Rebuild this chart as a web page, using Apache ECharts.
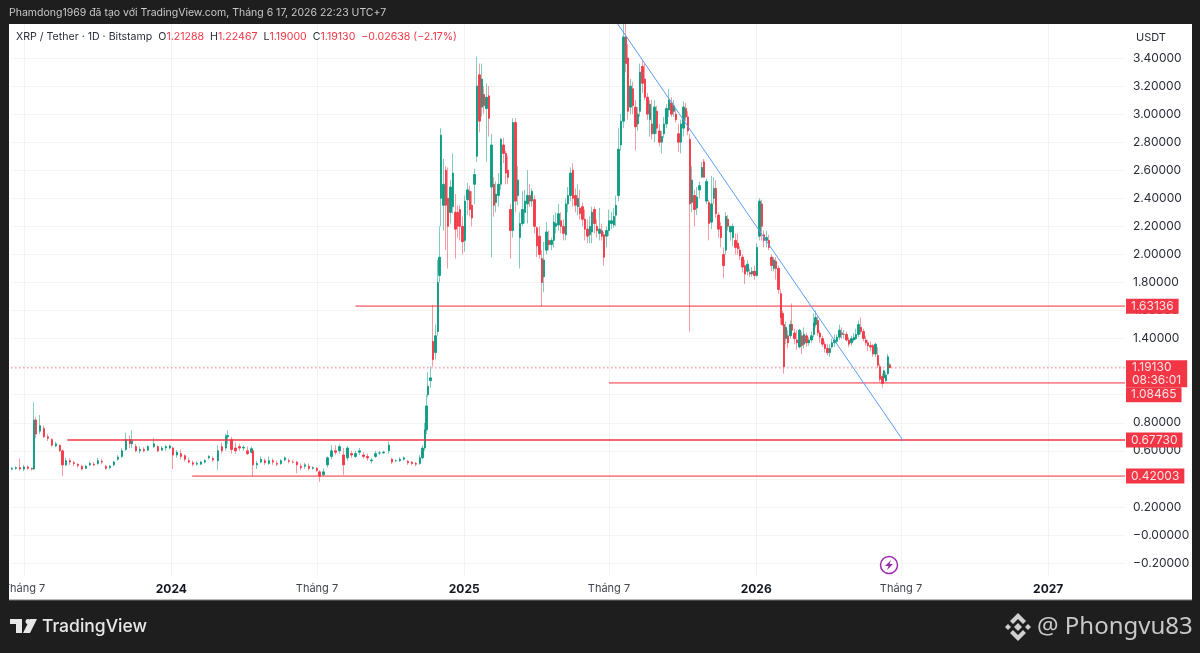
<!DOCTYPE html>
<html><head><meta charset="utf-8">
<style>html,body{margin:0;padding:0;background:#1e1e1e}#c{width:1200px;height:653px}</style>
<script src="https://cdn.jsdelivr.net/npm/echarts@6/dist/echarts.min.js"></script>
</head><body><div id="c"></div>
<script>
// rows: [month-day, open, close, low, high]
const rows2023 = [
['06-16',.47,.475,.46,.485],['06-21',.475,.48,.465,.49],['06-26',.48,.47,.46,.545],['07-01',.47,.485,.455,.50],['07-06',.485,.475,.465,.495],['07-11',.475,.47,.46,.48],['07-13',.47,.82,.465,.945],['07-16',.82,.72,.69,.84],['07-21',.74,.78,.72,.855],['07-26',.76,.70,.69,.78],['07-31',.70,.69,.67,.72],['08-05',.68,.64,.63,.69],['08-10',.635,.65,.625,.665],['08-15',.64,.60,.59,.645],['08-18',.60,.50,.42,.61],['08-22',.50,.53,.49,.55],['08-27',.53,.52,.50,.545],['09-01',.515,.51,.49,.53],['09-06',.505,.495,.48,.51],['09-11',.49,.47,.46,.50],['09-16',.475,.49,.47,.50],['09-21',.50,.51,.49,.525],['09-26',.505,.50,.49,.52],['10-01',.51,.53,.50,.55],['10-06',.525,.52,.505,.54],['10-11',.49,.475,.465,.50],['10-16',.48,.49,.47,.50],['10-21',.50,.52,.49,.53],['10-26',.54,.555,.53,.57],['10-31',.56,.60,.55,.62],['11-05',.61,.68,.60,.73],['11-10',.68,.65,.62,.71],['11-13',.65,.67,.62,.745],['11-18',.63,.60,.59,.65],['11-23',.60,.61,.58,.63],['11-28',.61,.60,.59,.625],['12-03',.605,.63,.60,.64],['12-10',.63,.65,.62,.69],['12-15',.63,.60,.59,.64],['12-20',.605,.62,.60,.635],['12-25',.62,.63,.60,.64],['12-30',.62,.635,.61,.645]
];
const rows2024 = [
['01-03',.62,.57,.47,.63],['01-08',.57,.59,.55,.605],['01-13',.58,.56,.54,.61],['01-18',.565,.54,.525,.575],['01-23',.53,.52,.51,.55],['01-28',.515,.505,.49,.53],['02-02',.505,.51,.495,.525],['02-07',.505,.52,.50,.53],['02-12',.52,.53,.51,.54],['02-17',.55,.56,.54,.57],['02-22',.545,.535,.52,.56],['02-28',.53,.60,.465,.64],['03-04',.63,.60,.58,.66],['03-09',.62,.70,.60,.72],['03-11',.70,.71,.65,.745],['03-16',.68,.61,.58,.70],['03-21',.62,.60,.58,.66],['03-26',.63,.62,.60,.65],['03-31',.62,.625,.60,.64],['04-05',.60,.58,.57,.63],['04-10',.59,.615,.58,.63],['04-12',.60,.50,.42,.61],['04-17',.50,.51,.47,.53],['04-22',.52,.54,.51,.56],['04-27',.53,.515,.50,.545],['05-02',.51,.53,.50,.56],['05-07',.53,.52,.50,.545],['05-12',.51,.505,.49,.53],['05-17',.51,.53,.50,.54],['05-22',.535,.55,.525,.56],['05-27',.53,.525,.51,.545],['06-01',.52,.52,.51,.535],['06-06',.52,.50,.44,.53],['06-11',.49,.48,.46,.51],['06-16',.49,.50,.47,.515],['06-21',.49,.475,.46,.51],['06-26',.475,.48,.465,.49],['07-01',.475,.46,.45,.485],['07-04',.45,.42,.38,.46],['07-09',.43,.45,.42,.475],['07-14',.50,.55,.48,.56],['07-19',.56,.60,.54,.64],['07-24',.60,.59,.57,.64],['07-29',.60,.63,.58,.645],['08-03',.57,.50,.43,.62],['08-08',.55,.62,.53,.635],['08-13',.58,.57,.55,.60],['08-18',.56,.58,.55,.60],['08-23',.59,.60,.57,.62],['08-28',.57,.56,.545,.59],['09-02',.56,.55,.53,.58],['09-07',.53,.535,.51,.55],['09-12',.56,.58,.55,.60],['09-17',.585,.585,.57,.60],['09-22',.585,.59,.58,.60],['09-29',.60,.64,.58,.665],['10-03',.54,.52,.505,.55],['10-08',.53,.53,.52,.54],['10-13',.53,.54,.52,.555],['10-18',.54,.55,.53,.56],['10-23',.525,.515,.50,.535],['10-28',.52,.51,.50,.525],['11-02',.51,.505,.49,.52],['11-07',.51,.55,.50,.57],['11-10',.55,.62,.54,.64],['11-13',.62,.75,.60,.80],['11-15',.75,.92,.72,1.00],['11-17',1.0,1.06,.98,1.16],['11-20',1.10,1.12,1.05,1.20],['11-23',1.38,1.25,1.20,1.64],['11-26',1.30,1.42,1.25,1.50],['11-29',1.45,1.80,1.42,1.96],['12-01',1.85,1.98,1.80,2.20],['12-03',2.40,2.85,2.20,2.90],['12-06',2.35,2.50,2.17,2.68],['12-09',2.60,2.35,2.03,2.63],['12-12',2.40,2.20,1.90,2.62],['12-15',2.30,2.48,2.22,2.53],['12-18',2.34,2.58,2.29,2.72],['12-21',2.30,2.18,1.97,2.43],['12-24',2.30,2.20,2.12,2.35],['12-27',2.32,2.20,2.10,2.35],['12-30',2.20,2.09,2.00,2.27]
];
const rows2025 = [
['01-02',2.10,2.38,2.02,2.42],['01-05',2.39,2.46,2.28,2.51],['01-08',2.45,2.32,2.27,2.49],['01-11',2.35,2.26,2.20,2.45],['01-14',2.50,2.57,2.36,2.61],['01-17',2.70,3.20,2.66,3.41],['01-20',3.28,2.95,2.87,3.36],['01-23',3.05,3.25,2.98,3.36],['01-26',3.14,3.06,3.00,3.20],['01-29',3.04,3.12,2.66,3.22],['02-01',3.13,2.97,2.84,3.20],['02-04',2.48,2.78,1.98,2.86],['02-07',2.50,2.35,2.27,2.55],['02-10',2.37,2.43,2.30,2.52],['02-13',2.42,2.50,2.34,2.58],['02-16',2.50,2.82,2.46,2.83],['02-19',2.78,2.72,2.65,2.83],['02-22',2.72,2.58,2.50,2.74],['02-25',2.60,2.55,2.50,2.70],['02-28',2.32,2.17,1.97,2.36],['03-03',2.17,2.94,2.12,2.97],['03-06',2.94,2.38,2.30,2.97],['03-09',2.42,2.53,2.35,2.63],['03-12',2.12,2.22,1.90,2.30],['03-15',2.22,2.32,2.20,2.45],['03-18',2.30,2.38,2.22,2.46],['03-21',2.36,2.42,2.22,2.60],['03-24',2.42,2.38,2.34,2.50],['03-27',2.38,2.45,2.34,2.47],['03-30',2.39,2.20,2.15,2.42],['04-02',2.19,2.06,1.98,2.20],['04-05',2.13,2.00,1.97,2.20],['04-08',1.97,1.80,1.63,2.03],['04-11',1.84,1.96,1.73,2.09],['04-14',2.03,2.16,2.00,2.23],['04-17',2.10,2.07,2.03,2.17],['04-20',2.07,2.10,2.03,2.12],['04-23',2.10,2.23,2.05,2.28],['04-26',2.20,2.22,2.15,2.30],['04-29',2.21,2.29,2.17,2.36],['05-02',2.24,2.20,2.15,2.30],['05-05',2.20,2.15,2.10,2.25],['05-08',2.14,2.36,2.10,2.40],['05-11',2.36,2.42,2.30,2.48],['05-14',2.42,2.58,2.38,2.62],['05-17',2.60,2.40,2.34,2.65],['05-20',2.42,2.35,2.30,2.47],['05-23',2.34,2.40,2.28,2.50],['05-26',2.33,2.29,2.25,2.46],['05-29',2.34,2.25,2.20,2.37],['06-01',2.25,2.18,2.10,2.32],['06-04',2.18,2.13,2.08,2.25],['06-07',2.14,2.20,2.08,2.27],['06-10',2.16,2.30,2.08,2.34],['06-13',2.32,2.22,2.15,2.34],['06-16',2.20,2.17,2.12,2.25],['06-19',2.15,2.18,2.10,2.33],['06-22',2.17,2.13,2.10,2.22],['06-25',2.14,1.98,1.92,2.16],['06-28',2.13,2.17,2.05,2.20],['07-01',2.17,2.24,2.13,2.32],['07-04',2.22,2.24,2.18,2.30],['07-07',2.21,2.27,2.19,2.33],['07-10',2.28,2.35,2.20,2.42],['07-13',2.42,2.75,2.38,2.90],['07-16',2.78,2.95,2.74,3.00],['07-19',2.95,3.55,2.90,3.67],['07-22',3.55,3.36,3.30,3.70],['07-25',3.40,3.02,2.96,3.50],['07-28',3.05,3.20,3.00,3.25],['07-31',3.18,3.06,3.00,3.23],['08-03',3.05,2.91,2.74,3.10],['08-06',2.93,3.00,2.88,3.05],['08-09',3.02,3.30,2.98,3.36],['08-12',3.34,3.22,3.15,3.38],['08-15',3.25,3.12,3.10,3.36],['08-18',3.12,3.00,2.96,3.15],['08-21',2.96,3.07,2.84,3.10],['08-24',2.93,2.86,2.82,3.10],['08-27',2.86,3.05,2.80,3.10],['08-30',3.02,2.90,2.86,3.06],['09-02',2.88,2.80,2.77,2.93],['09-05',2.80,2.84,2.72,2.88],['09-08',2.86,2.93,2.83,2.98],['09-11',2.93,3.04,2.90,3.07],['09-14',3.03,3.10,2.98,3.18],['09-17',3.08,3.00,2.98,3.12],['09-20',3.02,3.06,2.98,3.10],['09-23',3.00,2.96,2.94,3.04],['09-26',2.86,2.80,2.73,2.93],['09-29',2.80,2.93,2.72,2.96],['10-02',2.90,3.05,2.84,3.09],['10-05',3.04,2.98,2.95,3.08],['10-08',2.98,2.88,2.85,3.02],['10-10',2.82,2.36,1.45,2.86],['10-13',2.37,2.53,2.30,2.63],['10-16',2.42,2.32,2.20,2.46],['10-19',2.33,2.41,2.28,2.48],['10-22',2.46,2.49,2.40,2.52],['10-25',2.55,2.62,2.55,2.66],['10-28',2.66,2.55,2.55,2.68],['10-31',2.38,2.52,2.36,2.54],['11-03',2.37,2.22,2.10,2.39],['11-06',2.23,2.36,2.18,2.56],['11-09',2.40,2.47,2.36,2.55],['11-12',2.47,2.29,2.26,2.53],['11-15',2.28,2.18,2.12,2.30],['11-18',2.20,2.12,2.05,2.23],['11-21',2.00,1.92,1.83,2.05],['11-24',2.03,2.27,2.00,2.30],['11-27',2.25,2.20,2.17,2.28],['11-30',2.16,2.20,2.10,2.20],['12-03',2.12,2.20,2.06,2.22],['12-06',2.10,2.05,2.00,2.15],['12-09',2.08,2.04,2.00,2.15],['12-12',2.03,1.99,1.96,2.06],['12-15',1.98,1.91,1.87,2.00],['12-18',1.92,1.86,1.79,1.96],['12-21',1.88,1.93,1.85,1.96],['12-24',1.87,1.86,1.84,1.90],['12-27',1.86,1.88,1.84,1.91],['12-30',1.88,1.85,1.82,1.92]
];
const rows2026 = [
['01-02',1.85,2.05,1.84,2.08],['01-05',2.13,2.38,2.10,2.40],['01-08',2.36,2.20,2.10,2.39],['01-11',2.14,2.10,2.05,2.17],['01-14',2.10,2.12,2.05,2.17],['01-17',2.10,2.05,2.03,2.14],['01-20',1.98,1.92,1.88,2.00],['01-23',1.90,1.96,1.88,1.98],['01-26',1.95,1.90,1.82,1.98],['01-29',1.90,1.75,1.72,1.92],['02-01',1.72,1.55,1.50,1.75],['02-03',1.58,1.50,1.49,1.60],['02-05',1.50,1.20,1.15,1.53],['02-07',1.40,1.48,1.36,1.52],['02-10',1.42,1.37,1.33,1.46],['02-13',1.42,1.50,1.40,1.53],['02-15',1.50,1.46,1.43,1.65],['02-18',1.44,1.40,1.36,1.47],['02-21',1.39,1.37,1.32,1.46],['02-24',1.34,1.46,1.33,1.47],['02-27',1.42,1.35,1.29,1.45],['03-02',1.36,1.43,1.33,1.48],['03-05',1.42,1.37,1.34,1.44],['03-08',1.37,1.39,1.35,1.41],['03-11',1.39,1.42,1.37,1.45],['03-14',1.43,1.51,1.41,1.58],['03-16',1.50,1.55,1.48,1.60],['03-19',1.53,1.44,1.42,1.56],['03-22',1.44,1.41,1.37,1.46],['03-25',1.40,1.36,1.34,1.42],['03-28',1.36,1.33,1.30,1.38],['03-31',1.33,1.30,1.28,1.36],['04-03',1.30,1.33,1.27,1.36],['04-06',1.34,1.37,1.33,1.40],['04-09',1.37,1.39,1.34,1.43],['04-12',1.38,1.41,1.36,1.43],['04-15',1.41,1.46,1.39,1.50],['04-18',1.44,1.43,1.40,1.48],['04-21',1.43,1.43,1.40,1.46],['04-24',1.43,1.39,1.38,1.45],['04-27',1.39,1.36,1.34,1.41],['04-30',1.37,1.40,1.35,1.42],['05-03',1.39,1.41,1.38,1.44],['05-06',1.40,1.43,1.39,1.47],['05-09',1.43,1.50,1.41,1.53],['05-12',1.48,1.45,1.43,1.55],['05-15',1.45,1.40,1.38,1.47],['05-18',1.39,1.37,1.35,1.42],['05-21',1.37,1.35,1.31,1.39],['05-24',1.35,1.34,1.31,1.38],['05-27',1.35,1.29,1.27,1.36],['05-30',1.29,1.36,1.27,1.37],['06-02',1.28,1.21,1.19,1.34],['06-05',1.20,1.11,1.09,1.22],['06-08',1.13,1.08,1.05,1.15],['06-10',1.12,1.17,1.08,1.18],['06-12',1.10,1.14,1.09,1.16],['06-15',1.15,1.27,1.14,1.29],['06-17',1.21288,1.1913,1.19,1.22467]
];
const priceTicks = [-0.2,0,0.2,0.4,0.6,0.8,1.0,1.2,1.4,1.6,1.8,2.0,2.2,2.4,2.6,2.8,3.0,3.2,3.4];
const timeTicks = ['2023-07-01','2024-01-01','2024-07-01','2025-01-01','2025-07-01','2026-01-01','2026-07-01','2027-01-01'];
const levelValues = [1.63136,1.08465,0.6773,0.42003];
const levelStarts = ['2024-08-18','2025-07-01','2023-08-24','2024-01-27'];
const lastPrice = 1.1913, countdown = '08:36:01';
const trendStart = ['2025-07-12',3.642], trendEnd = ['2026-07-04',0.67];
const xMin = '2023-06-15', xMax = '2027-04-07';

const ms = d=>+echarts.time.parse(d);
const toRows = (y,r)=>r.map(a=>[ms(`${y}-${a[0]}`),a[1],a[2],a[3],a[4]]);
const candles = [...toRows(2023,rows2023),...toRows(2024,rows2024),...toRows(2025,rows2025),...toRows(2026,rows2026)];
// Bodies are drawn as a second layer so wicks can stay paler, as in the reference.
const bodies = candles.map(r=>[r[0],r[1],r[2],Math.min(r[1],r[2]),Math.max(r[1],r[2])]);
const RED='#f23645', GREEN='#089981', FONT='Inter, "Noto Sans", sans-serif';
const tagLabel = (fmt,off)=>({show:true,formatter:fmt,backgroundColor:RED,color:'#ffe4e6',fontFamily:FONT,fontSize:12,lineHeight:12,padding:[2,5,1,5],distance:1,offset:[0,off]});
const levelOffsets=[0,12,0,0], levelWidths=[1.6,1.6,1.4,1.6], levelOpac=[.6,.6,1,.6];
const levelSeries = levelValues.map((v,i)=>({type:'line',data:[[ms(levelStarts[i]),v],[ms(xMax),v]],symbol:'none',silent:true,z:5,
  lineStyle:{color:RED,width:levelWidths[i],opacity:levelOpac[i]},endLabel:tagLabel(()=>v.toFixed(5),levelOffsets[i])}));
const poly=(pts,fill)=>({type:'polygon',shape:{points:pts},style:{fill},z:101});
const tvC='#e8e8e8', bnC='#cfcfcf';
const chart = echarts.init(document.getElementById('c'));
chart.setOption({
  animation:false,backgroundColor:'#1e1e1e',
  grid:{left:9,top:24,width:1116,height:552},
  xAxis:{type:'value',min:ms(xMin),max:ms(xMax),scale:true,
    axisLine:{show:false},axisTick:{show:false,customValues:timeTicks.map(ms)},
    splitLine:{show:true,lineStyle:{color:'#f3f3f4',width:1}},
    axisLabel:{customValues:timeTicks.map(ms),margin:7,hideOverlap:false,fontFamily:FONT,fontSize:11,color:'#434651',
      formatter:v=>{const d=new Date(v);return d.getMonth()===0?`{y|${d.getFullYear()}}`:'Tháng 7';},
      rich:{y:{fontFamily:FONT,fontSize:12,fontWeight:'bold',color:'#131722'}}}},
  yAxis:{type:'value',position:'right',min:-0.2922,max:3.6423,scale:true,
    axisLine:{show:false},axisTick:{show:false,customValues:priceTicks},
    splitLine:{show:true,lineStyle:{color:'#f3f3f4',width:1}},
    axisLabel:{customValues:priceTicks,margin:8,fontFamily:FONT,fontSize:12,color:'#2a2e39',
      formatter:v=>(v<=0?'−':'')+Math.abs(v).toFixed(5)}},
  series:[
    {type:'candlestick',data:candles,barWidth:0.6,clip:true,z:2,silent:true,
      itemStyle:{color:GREEN,color0:RED,borderColor:GREEN,borderColor0:RED,borderWidth:1,opacity:.5}},
    {type:'candlestick',data:bodies,barWidth:1.8,clip:true,z:3,silent:true,
      itemStyle:{color:GREEN,color0:RED,borderColor:GREEN,borderColor0:RED,borderWidth:.9,opacity:.95}},
    ...levelSeries,
    {type:'line',data:[[ms(xMin),lastPrice],[ms(xMax),lastPrice]],symbol:'none',silent:true,z:4,
      lineStyle:{color:RED,width:1,type:[1,3],opacity:1},
      endLabel:Object.assign(tagLabel(()=>lastPrice.toFixed(5)+'\n'+countdown,6),{lineHeight:13,padding:[1,6,0,6]})},
    {type:'line',data:[[ms(trendStart[0]),trendStart[1]],[ms(trendEnd[0]),trendEnd[1]]],symbol:'none',silent:true,z:6,lineStyle:{color:'#5b9cf6',width:1}}
  ],
  graphic:[
    {type:'rect',shape:{x:9,y:24,width:1183,height:576},style:{fill:'#ffffff'},z:-10},
    {type:'rect',shape:{x:9,y:599.5,width:1183,height:1},style:{fill:'#777777'},z:100},
    {type:'rect',shape:{x:0,y:0,width:9,height:653},style:{fill:'#1e1e1e'},z:100},
    {type:'rect',shape:{x:9,y:0,width:1191,height:24},style:{fill:'#1e1e1e'},z:100},
    {type:'text',x:9,y:13,z:101,style:{text:'Phamdong1969 đã tạo với TradingView.com, Tháng 6 17, 2026 22:23 UTC+7',fill:'#c9c9c9',fontFamily:FONT,fontSize:10.5,verticalAlign:'middle'}},
    {type:'text',x:16,y:37,z:101,style:{text:'{k|XRP / Tether · 1D · Bitstamp  O}{r|1.21288}{k|  H}{r|1.22467}{k|  L}{r|1.19000}{k|  C}{r|1.19130}{r|  −0.02638 (−2.17%)}',
      rich:{k:{fill:'#2a2e39',fontFamily:FONT,fontSize:10.6},r:{fill:RED,fontFamily:FONT,fontSize:10.6}},verticalAlign:'middle'}},
    {type:'text',x:1136,y:38,z:101,style:{text:'USDT',fill:'#2a2e39',fontFamily:FONT,fontSize:11,verticalAlign:'middle'}},
    {type:'circle',shape:{cx:889,cy:565,r:8.5},style:{fill:'#fff',stroke:'#9c27b0',lineWidth:1.5},z:101},
    poly([[891,560],[885,566],[888.5,566],[887,570],[893,564],[889.5,564]],'#9c27b0'),
    poly([[10,619],[22,619],[22,633],[16,633],[16,624],[10,624]],tvC),
    {type:'circle',shape:{cx:28,cy:621.5,r:2.5},style:{fill:tvC},z:101},
    poly([[30,619],[37,619],[30,633],[23,633]],tvC),
    {type:'text',x:42,y:627,z:101,style:{text:'TradingView',fill:tvC,fontFamily:FONT,fontSize:17.5,fontWeight:500,verticalAlign:'middle'}},
    poly([[1018,613],[1026,621],[1023,624],[1018,619],[1013,624],[1010,621]],bnC),
    poly([[1018,641],[1026,633],[1023,630],[1018,635],[1013,630],[1010,633]],bnC),
    poly([[1018,623],[1022,627],[1018,631],[1014,627]],bnC),
    poly([[1008,624],[1011,627],[1008,630],[1005,627]],bnC),
    poly([[1028,624],[1031,627],[1028,630],[1025,627]],bnC),
    {type:'text',x:1037,y:627,z:101,style:{text:'@ Phongvu83',fill:'#c8c8c8',fontFamily:'"Noto Sans", sans-serif',fontSize:24,verticalAlign:'middle'}}
  ]
});
</script></body></html>
